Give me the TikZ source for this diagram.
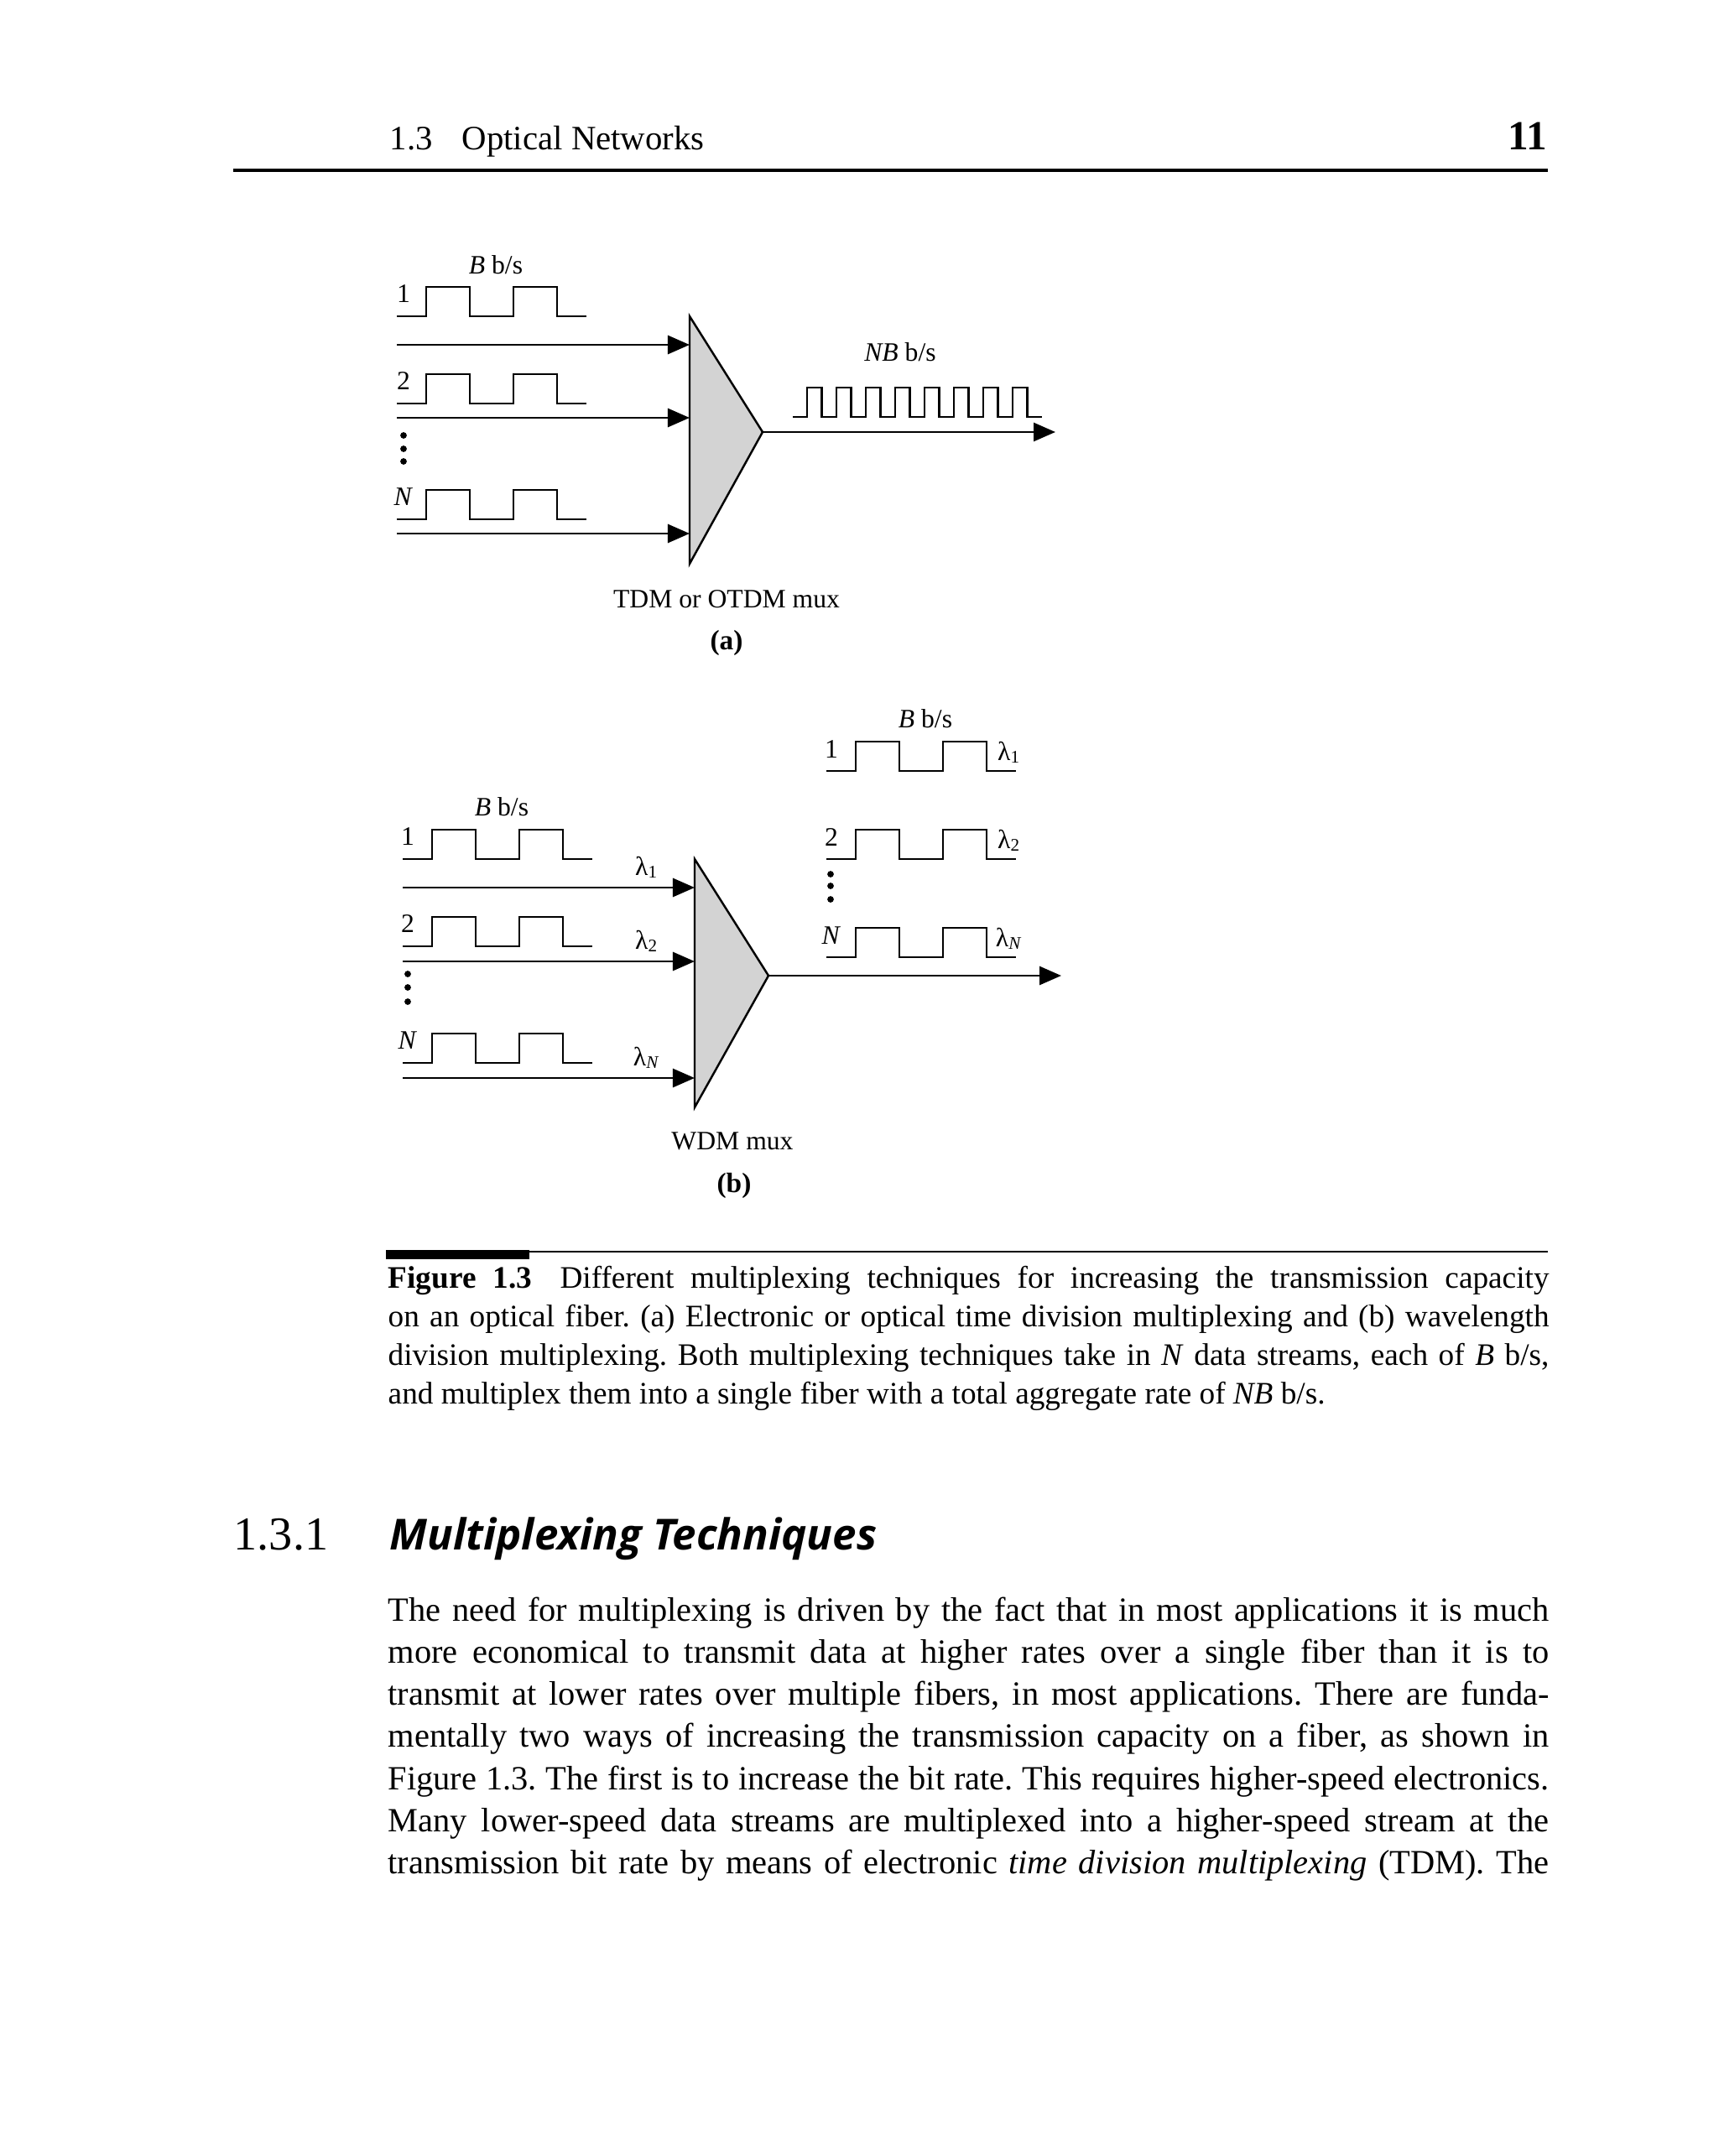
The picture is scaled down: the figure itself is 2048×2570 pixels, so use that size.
\documentclass[tikz,border=0pt]{standalone}
\usepackage{fontspec}
\setmainfont{Liberation Serif}
\newfontfamily\headsans{Open Sans}
\usetikzlibrary{arrows.meta}
\definecolor{MuxGray}{HTML}{D3D3D3}

\tikzset{
  wave/.style={line width=0.75pt},
  sigarrow/.style={line width=0.8pt,-{Triangle[length=2.6mm,width=2.2mm]}},
  mux/.style={fill=MuxGray,draw=black,line width=0.7pt,line join=miter},
  lbl/.style={font=\fontsize{9}{10}\selectfont,inner sep=0pt},
  tag/.style={font=\bfseries\fontsize{9.5}{10}\selectfont,inner sep=0pt},
  para/.style={anchor=base west,inner sep=0pt,text width=13.83cm,align=justify},
  pics/slowwave/.style={code={
    \draw[wave] (0,0) -- ++(35,0) -- ++(0,-35) -- ++(52,0) -- ++(0,35)
      -- ++(52,0) -- ++(0,-35) -- ++(52,0) -- ++(0,35) -- ++(35,0);}},
}

\begin{document}
\frenchspacing
\begin{tikzpicture}[x=0.01cm,y=-0.01cm]
  \useasboundingbox[fill=white] (0,0) rectangle (2048,2570);

  % running head
  \node[anchor=base west,inner sep=0pt,font=\fontsize{11.6}{14}\selectfont] (hdsec) at (464,179) {1.3};
  \node[anchor=base west,inner sep=0pt,font=\fontsize{11.6}{14}\selectfont] (hdtitle) at (550,179) {Optical Networks};
  \node[anchor=base east,inner sep=0pt,font=\bfseries\fontsize{14}{16}\selectfont] (pageno) at (1845,179) {11};
  \draw[line width=1.1pt] (278,203) -- (1845,203);

  % (a) TDM mux
  \coordinate (a-top) at (822,377);
  \coordinate (a-bot) at (822,672);
  \coordinate (a-tip) at (909,515);
  \filldraw[mux] (a-top) -- (a-tip) -- (a-bot) -- cycle;
  \foreach \k/\lab/\wy/\ay in {1/1/377/411, 2/2/481/498, 3/\textit{N}/619/636}{
    \node[lbl] (a-lab\k) at (481,\wy-27) {\lab};
    \pic at (473,\wy) {slowwave};
    \coordinate (a-in\k) at (473,\ay);
    \draw[sigarrow] (a-in\k) -- (a-in\k -| a-top);
  }
  \foreach \dy in {519,535,550} \fill (481,\dy) circle[radius=1.1pt];
  \node[lbl] (a-rate) at (591,316) {\textit{B} b/s};
  \coordinate (a-out) at (1258,515);
  \draw[sigarrow] (a-tip) -- (a-out);
  \draw[wave] (945,497) -- ++(17,0)
    \foreach \p in {1,...,8}{ -- ++(0,-35) -- ++(17.5,0) -- ++(0,35) -- ++(17.5,0)};
  \node[lbl] (a-fast) at (1073,420) {\textit{NB} b/s};
  \node[lbl] (a-name) at (866,714) {TDM or OTDM mux};
  \node[tag] (a-tag) at (866,766) {(a)};

  % (b) WDM mux
  \coordinate (b-top) at (828,1024);
  \coordinate (b-bot) at (828,1320);
  \coordinate (b-tip) at (916,1163);
  \filldraw[mux] (b-top) -- (b-tip) -- (b-bot) -- cycle;
  \foreach \k/\lab/\wy/\ay/\sub in {1/1/1024/1058/1, 2/2/1128/1146/2, 3/\textit{N}/1267/1285/\textit{N}}{
    \node[lbl] (b-lab\k) at (486,\wy-27) {\lab};
    \pic at (480,\wy) {slowwave};
    \node[lbl] (b-lam\k) at (771,\ay-24) {λ\textsubscript{\sub}};
    \coordinate (b-in\k) at (480,\ay);
    \draw[sigarrow] (b-in\k) -- (b-in\k -| b-top);
  }
  \foreach \dy in {1161,1177,1194} \fill (486,\dy) circle[radius=1.1pt];
  \node[lbl] (b-rate) at (598,962) {\textit{B} b/s};
  \coordinate (b-out) at (1265,1163);
  \draw[sigarrow] (b-tip) -- (b-out);
  \foreach \k/\lab/\wy/\sub in {1/1/919/1, 2/2/1024/2, 3/\textit{N}/1141/\textit{N}}{
    \node[lbl] (c-lab\k) at (991,\wy-26) {\lab};
    \pic at (985,\wy) {slowwave};
    \node[lbl] (c-lam\k) at (1203,\wy-22) {λ\textsubscript{\sub}};
  }
  \foreach \dy in {1042,1056,1072} \fill (990,\dy) circle[radius=1.1pt];
  \node[lbl] (c-rate) at (1103,857) {\textit{B} b/s};
  \node[lbl] (b-name) at (873,1360) {WDM mux};
  \node[tag] (b-tag) at (875,1413) {(b)};

  % caption
  \fill (460,1490) rectangle (631,1501);
  \draw[line width=0.6pt] (460,1492) -- (1845,1492);
  \node[para,font=\fontsize{10.6}{13.1}\selectfont] (caption) at (462,1535)
    {\tolerance=9999 \hyphenpenalty=10000
     \textbf{Figure 1.3}\hspace{0.9em}Different multiplexing techniques for increasing the transmission capacity\linebreak
     on an optical fiber. (a) Electronic or optical time division multiplexing and (b) wavelength\linebreak
     division multiplexing. Both multiplexing techniques take in \textit{N} data streams, each of \textit{B}~b/s,\linebreak
     and multiplex them into a single fiber with a total aggregate rate of \textit{NB} b/s.};

  % section
  \node[anchor=base west,inner sep=0pt,font=\fontsize{16}{18}\selectfont] (secnum) at (278,1847) {1.3.1};
  \node[anchor=base west,inner sep=0pt,font=\headsans\bfseries\itshape\fontsize{14.5}{17}\selectfont] (sectitle) at (464,1847) {Multiplexing Techniques};
  \node[para,font=\fontsize{11.5}{14.3}\selectfont] (body) at (462,1932)
    {\tolerance=9999 \hyphenpenalty=10000
     The need for multiplexing is driven by the fact that in most applications it is much\linebreak
     more economical to transmit data at higher rates over a single fiber than it is to\linebreak
     transmit at lower rates over multiple fibers, in most applications. There are funda-\linebreak
     mentally two ways of increasing the transmission capacity on a fiber, as shown in\linebreak
     Figure 1.3. The first is to increase the bit rate. This requires higher-speed electronics.\linebreak
     Many lower-speed data streams are multiplexed into a higher-speed stream at the\linebreak
     \makebox[\linewidth][s]{transmission bit rate by means of electronic \textit{time division multiplexing} (TDM). The}};
\end{tikzpicture}
\end{document}
